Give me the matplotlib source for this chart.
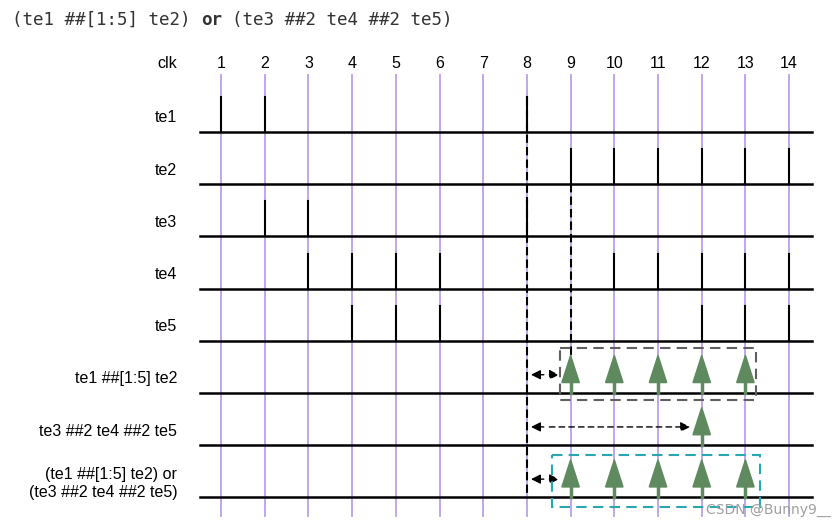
import matplotlib
matplotlib.use("Agg")
import matplotlib.pyplot as plt
from matplotlib.patches import Rectangle

clocks = list(range(1, 15))
signals = ["te1", "te2", "te3", "te4", "te5"]
pulses = {
    "te1": [1, 2, 8],
    "te2": [9, 10, 11, 12, 13, 14],
    "te3": [2, 3, 8],
    "te4": [3, 4, 5, 6, 10, 11, 12, 13, 14],
    "te5": [4, 5, 6, 12, 13, 14],
}
result_rows = ["te1 ##[1:5] te2", "te3 ##2 te4 ##2 te5", "(te1 ##[1:5] te2) or\n(te3 ##2 te4 ##2 te5)"]
matches = [[9, 10, 11, 12, 13], [12], [9, 10, 11, 12, 13]]
ends = [9, 12, 9]
start_clk = 8

W, H = 833, 526
fig = plt.figure(figsize=(W/100, H/100), dpi=100)
ax = fig.add_axes([0, 0, 1, 1])
dx, x1 = 43.7, 221
dy, y0 = 52.2, 132
ax.set_xlim(1 - x1/dx, 1 + (W - x1)/dx)
ax.set_ylim((H - y0)/dy, -y0/dy)
ax.axis("off")

lab_x = 0.0
nrows = len(signals) + len(result_rows)
for c in clocks:
    ax.plot([c, c], [-1.1, 7.35], color="#b9a0ea", lw=1.3, zorder=1)
    ax.text(c, -1.31, str(c), ha="center", va="center", fontsize=11.5, family="Liberation Sans")
ax.text(lab_x, -1.31, "clk", ha="right", va="center", fontsize=11.5, family="Liberation Sans")

labels = signals + result_rows
for r in range(nrows):
    ax.plot([0.52, 14.52], [r, r], color="black", lw=1.8, zorder=2)
    ax.text(lab_x, r - 0.27, labels[r], ha="right", va="center", fontsize=11.5,
            family="Liberation Sans", linespacing=1.3)
for r, s in enumerate(signals):
    for c in pulses[s]:
        ax.plot([c, c], [r, r - 0.67], color="black", lw=1.5, zorder=3)

ax.plot([8, 8], [-0.67, 7.0], color="black", lw=1.5, ls=(0, (4, 2)), zorder=3)
ax.plot([9, 9], [1, 4.4], color="black", lw=1.5, ls=(0, (4, 2)), zorder=3)

for i, (row_m, e) in enumerate(zip(matches, ends)):
    r = len(signals) + i
    for c in row_m:
        ax.plot([c, c], [r, r - 0.3], color="#5f8a5f", lw=2.5, zorder=4)
        ax.add_patch(plt.Polygon([[c - 0.2, r - 0.2], [c + 0.2, r - 0.2], [c, r - 0.72]],
                                 color="#5f8a5f", zorder=5))
    yy = r - 0.35
    ax.annotate("", xy=(start_clk + 0.03, yy), xytext=(start_clk + 0.45, yy),
                arrowprops=dict(arrowstyle="-|>", color="black", lw=1.0, mutation_scale=14))
    ax.annotate("", xy=(e - 0.2, yy), xytext=(start_clk + 0.45, yy),
                arrowprops=dict(arrowstyle="-|>", color="black", lw=1.0, ls=(0, (4, 3)), mutation_scale=14))

def box(xl, xr, yt, yb, col):
    cx = lambda p: 1 + (p - x1)/dx
    cy = lambda p: (p - y0)/dy
    ax.add_patch(Rectangle((cx(xl), cy(yt)), cx(xr) - cx(xl), cy(yb) - cy(yt), fill=False,
                           ec=col, lw=1.5, ls=(0, (5, 3)), zorder=6))
box(560, 756, 348, 400, "#606060")
box(552, 760, 455, 507, "#2aa6b0")

cw = 10.5
tcol = "#333333"
fig.text(12/W, 1 - 20/H, "(te1 ##[1:5] te2)", family="DejaVu Sans Mono", fontsize=12.6, va="center", color=tcol)
fig.text((12 + 18*cw)/W, 1 - 20/H, "or", family="DejaVu Sans Mono", fontsize=12.6, va="center", weight="bold", color=tcol)
fig.text((12 + 21*cw)/W, 1 - 20/H, "(te3 ##2 te4 ##2 te5)", family="DejaVu Sans Mono", fontsize=12.6, va="center", color=tcol)
fig.text(706/W, 1 - 510/H, "CSDN @Bunny9__", fontsize=10, color="#a0a0a0", va="center")
fig.savefig("out.png", dpi=100)
